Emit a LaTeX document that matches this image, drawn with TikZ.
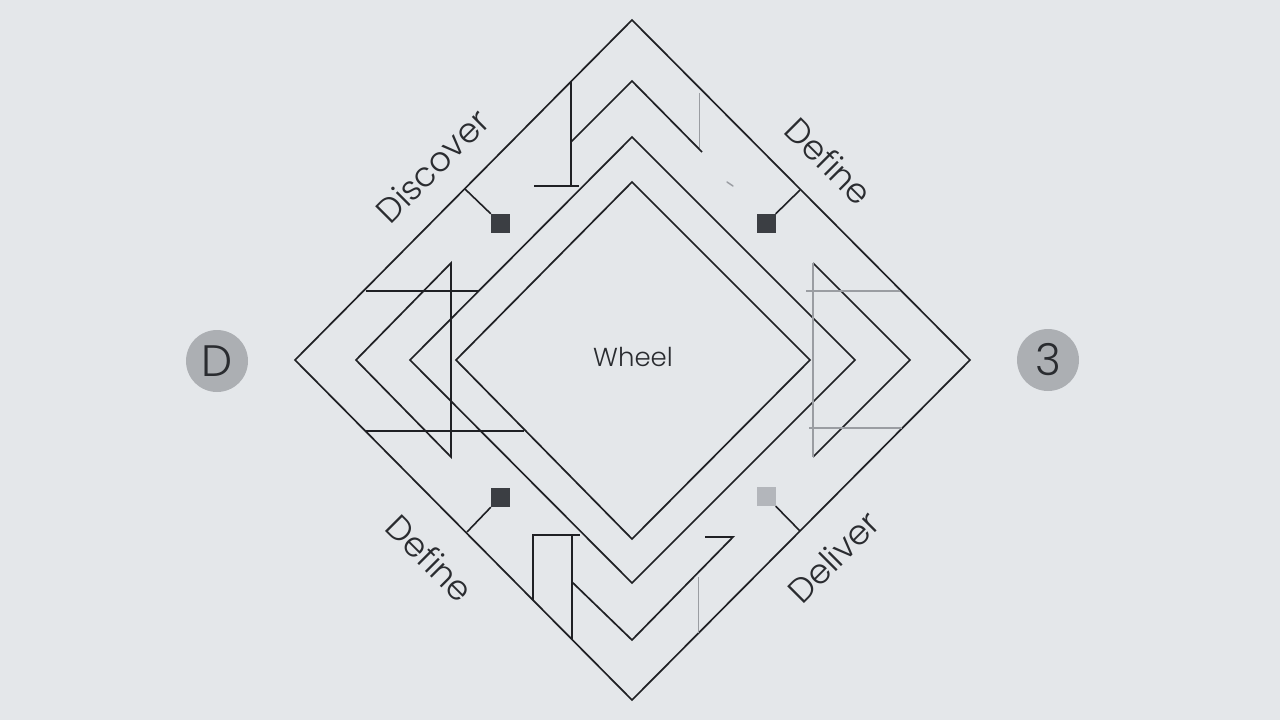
\documentclass[tikz,border=0pt]{standalone}
\usepackage{fontspec}
\setmainfont{Poppins}
\newfontfamily\lightfont{Poppins Light}
\definecolor{bg}{HTML}{E4E7EA}
\definecolor{ink}{HTML}{1F2024}
\definecolor{faint}{HTML}{9A9DA2}
\definecolor{sqdark}{HTML}{3B3E43}
\definecolor{sqlight}{HTML}{B3B6BB}
\definecolor{circ}{HTML}{ACAFB3}
\definecolor{txt}{HTML}{2A2C30}
\begin{document}
\begin{tikzpicture}[x=1pt,y=-1pt,
  ln/.style={line width=1.7pt, draw=ink, line join=miter},
  lnf/.style={line width=1.2pt, draw=faint},
  sq/.style={rectangle, minimum size=19pt, inner sep=0pt, fill=sqdark},
  sql/.style={rectangle, minimum size=19pt, inner sep=0pt, fill=sqlight},
  lab/.style={text=txt, font=\lightfont\fontsize{34}{40}\selectfont, inner sep=0pt},
  badge/.style={circle, fill=circ, minimum size=62pt, inner sep=0pt, text=txt, font=\lightfont\fontsize{44}{48}\selectfont}]
\fill[bg] (0,0) rectangle (1280,720);
\useasboundingbox (0,0) rectangle (1280,720);
% full diamonds
\draw[ln] (632,20) -- (970,360) -- (632,700) -- (295,360) -- cycle;
\draw[ln] (632,137) -- (855,360) -- (632,583) -- (410,360) -- cycle;
\draw[ln] (632,182) -- (810,360) -- (632,539) -- (456,360) -- cycle;
% second diamond pieces
\draw[ln] (571,142) -- (632,81) -- (702,152);
\draw[ln] (451,263) -- (356,360) -- (451,457) -- cycle;
\draw[ln] (813,263) -- (910,360) -- (813,457);
\draw[lnf] (813,263) -- (813,457);
\draw[ln] (572,582) -- (632,640) -- (733,537) -- (705,537);
% extra strokes
\draw[ln] (571,82) -- (571,186);
\draw[ln] (534,186) -- (579,186);
\draw[ln] (366,291) -- (478,291);
\draw[ln] (366,431) -- (524,431);
\draw[lnf] (806,291) -- (900,291);
\draw[lnf] (809,428) -- (902,428);
\draw[lnf, line width=1pt] (699,93) -- (699,148);
\draw[lnf, line width=1.5pt, line cap=round] (727,182) -- (733,186);
\draw[ln] (533,600) -- (533,535) -- (580,535);
\draw[ln] (572,535) -- (572,639);
\draw[lnf, line width=1pt] (698,577) -- (698,633);
% squares and connectors
\node[sq] (sqUL) at (500.5,223.5) {};
\node[sq] (sqUR) at (766,223.5) {};
\node[sq] (sqLL) at (500.5,497.5) {};
\node[sql] (sqLR) at (766,496.5) {};
\coordinate (eUL) at (465,189);
\coordinate (eUR) at (800,190);
\coordinate (eLL) at (467,532);
\coordinate (eLR) at (800,531);
\draw[ln, line width=1.6pt] (eUL) -- (sqUL.north west);
\draw[ln, line width=1.6pt] (eUR) -- (sqUR.north east);
\draw[ln, line width=1.6pt] (eLL) -- (sqLL.south west);
\draw[ln, line width=1.6pt] (eLR) -- (sqLR.south east);
% labels
\node[lab, rotate=45] (discover) at (432,166) {Discover};
\node[lab, rotate=-45] (define1) at (829,161) {Define};
\node[lab, rotate=-45] (define2) at (430,558) {Define};
\node[lab, rotate=45] (deliver) at (833,557) {Deliver};
\node[text=txt, font=\lightfont\fontsize{26}{30}\selectfont] (wheel) at (633,357) {Wheel};
\node[badge] (bl) at (217,361) {D};
\node[badge] (br) at (1048,360) {3};
\end{tikzpicture}
\end{document}
